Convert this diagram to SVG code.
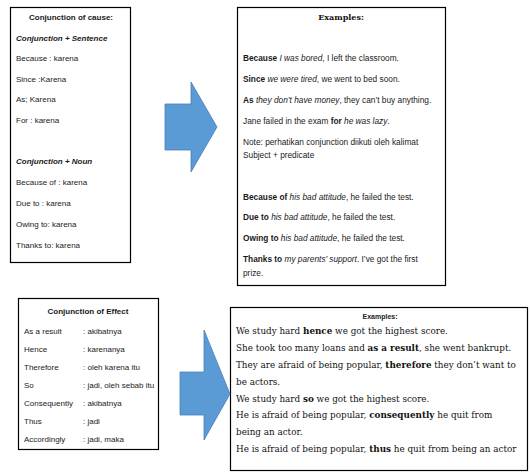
<svg xmlns="http://www.w3.org/2000/svg" width="530" height="475" viewBox="0 0 530 475">
<style>
.box{fill:#fff;stroke:#000;stroke-width:1.2}
.arrow{fill:#5b9bd5;stroke:#4a7fb5;stroke-width:0.8}
.s{font-family:"Liberation Sans",Arial,sans-serif;font-size:8px;fill:#1a1a1a}
.s2{font-family:"Liberation Sans",Arial,sans-serif;font-size:8.3px;fill:#1a1a1a}
.b{font-weight:bold}
.i{font-style:italic}
.sf{font-family:"DejaVu Serif","Liberation Serif",serif;font-size:8.8px;fill:#111}
.t{text-anchor:middle}
</style>
<rect width="530" height="475" fill="#fff"/>
<g id="cause-list">
<rect class="box" x="10.5" y="7.5" width="120" height="255"/>
<text class="s b t" x="71" y="20">Conjunction of cause:</text>
<text class="s b i" x="16" y="41">Conjunction + Sentence</text>
<text class="s" x="16" y="61">Because : karena</text>
<text class="s" x="16" y="82">Since :Karena</text>
<text class="s" x="16" y="102">As; Karena</text>
<text class="s" x="16" y="123">For : karena</text>
<text class="s b i" x="16" y="164">Conjunction + Noun</text>
<text class="s" x="16" y="185">Because of : karena</text>
<text class="s" x="16" y="206">Due to : karena</text>
<text class="s" x="16" y="227">Owing to: karena</text>
<text class="s" x="16" y="248">Thanks to: karena</text>
</g>
<g id="cause-examples">
<rect class="box" x="237.5" y="7.5" width="208" height="278"/>
<text class="sf b t" x="341" y="20" style="font-size:8px">Examples:</text>
<text class="s2" x="243" y="61"><tspan class="b">Because</tspan> <tspan class="i">I was bored</tspan>, I left the classroom.</text>
<text class="s2" x="243" y="82"><tspan class="b">Since</tspan> <tspan class="i">we were tired</tspan>, we went to bed soon.</text>
<text class="s2" x="243" y="103"><tspan class="b">As</tspan> <tspan class="i">they don’t have money</tspan>, they can’t buy anything.</text>
<text class="s2" x="243" y="124">Jane failed in the exam <tspan class="b">for</tspan> <tspan class="i">he was lazy</tspan>.</text>
<text class="s2" x="243" y="145">Note: perhatikan conjunction diikuti oleh kalimat</text>
<text class="s2" x="243" y="158">Subject + predicate</text>
<text class="s2" x="243" y="200"><tspan class="b">Because of</tspan> <tspan class="i">his bad attitude</tspan>, he failed the test.</text>
<text class="s2" x="243" y="220"><tspan class="b">Due to</tspan> <tspan class="i">his bad attitude</tspan>, he failed the test.</text>
<text class="s2" x="243" y="241"><tspan class="b">Owing to</tspan> <tspan class="i">his bad attitude</tspan>, he failed the test.</text>
<text class="s2" x="243" y="262"><tspan class="b">Thanks to</tspan> <tspan class="i">my parents’ support</tspan>. I’ve got the first</text>
<text class="s2" x="243" y="276">prize.</text>
</g>
<g id="effect-list">
<rect class="box" x="18.5" y="298.5" width="140" height="151"/>
<text class="s b t" x="88" y="314">Conjunction of Effect</text>
<text class="s" x="24" y="334">As a result</text><text class="s" x="83" y="334">: akibatnya</text>
<text class="s" x="24" y="352">Hence</text><text class="s" x="83" y="352">: karenanya</text>
<text class="s" x="24" y="370">Therefore</text><text class="s" x="83" y="370">: oleh karena itu</text>
<text class="s" x="24" y="388">So</text><text class="s" x="83" y="388">: jadi, oleh sebab itu</text>
<text class="s" x="24" y="406">Consequently</text><text class="s" x="83" y="406">: akibatnya</text>
<text class="s" x="24" y="424">Thus</text><text class="s" x="83" y="424">: jadi</text>
<text class="s" x="24" y="442">Accordingly</text><text class="s" x="83" y="442">: jadi, maka</text>
</g>
<g id="effect-examples">
<rect class="box" x="230.5" y="307.5" width="297" height="163"/>
<text class="s b t" x="380" y="319" style="font-size:7px">Examples:</text>
<text class="sf" x="236" y="334">We study hard <tspan class="b">hence</tspan> we got the highest score.</text>
<text class="sf" x="236" y="351">She took too many loans and <tspan class="b">as a result</tspan>, she went bankrupt.</text>
<text class="sf" x="236" y="368">They are afraid of being popular, <tspan class="b">therefore</tspan> they don’t want to</text>
<text class="sf" x="236" y="385">be actors.</text>
<text class="sf" x="236" y="402">We study hard <tspan class="b">so</tspan> we got the highest score.</text>
<text class="sf" x="236" y="418">He is afraid of being popular, <tspan class="b">consequently</tspan> he quit from</text>
<text class="sf" x="236" y="435">being an actor.</text>
<text class="sf" x="236" y="452">He is afraid of being popular, <tspan class="b">thus</tspan> he quit from being an actor</text>
</g>
<g id="connectors">
<polygon class="arrow" points="165,104 191,104 191,82 217,127 191,172 191,150 165,150"/>
<polygon class="arrow" points="180,372 204,372 204,330 230,394 204,440 204,415 180,415"/>
</g>
</svg>
